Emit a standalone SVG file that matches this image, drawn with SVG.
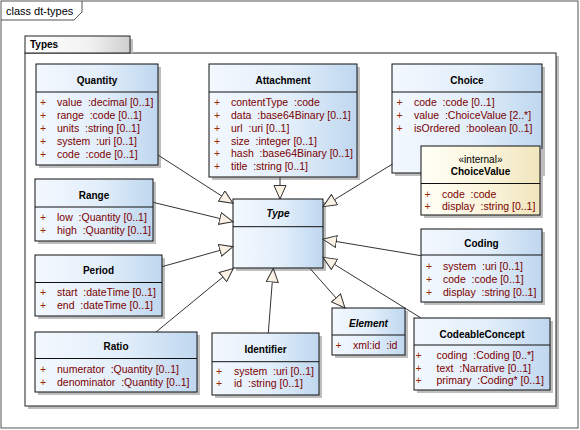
<svg xmlns="http://www.w3.org/2000/svg" width="580" height="430" viewBox="0 0 580 430">
<defs>
<linearGradient id="gb" x1="0" y1="0" x2="1" y2="0">
<stop offset="0" stop-color="#F3F8FE"/>
<stop offset="0.55" stop-color="#E2EEFA"/>
<stop offset="1" stop-color="#BFD7EF"/>
</linearGradient>
<linearGradient id="gy" x1="0" y1="0" x2="1" y2="0">
<stop offset="0" stop-color="#FFFFF6"/>
<stop offset="0.55" stop-color="#FAF4DC"/>
<stop offset="1" stop-color="#F0E5BC"/>
</linearGradient>
<linearGradient id="gt" x1="0" y1="0" x2="1" y2="0">
<stop offset="0" stop-color="#FFFFFF"/>
<stop offset="0.6" stop-color="#F2F2F2"/>
<stop offset="1" stop-color="#CFCFCF"/>
</linearGradient>
<marker id="gen" markerUnits="userSpaceOnUse" viewBox="0 0 16 14" markerWidth="16" markerHeight="14" refX="14" refY="6.5" orient="auto">
<path d="M0.5,0.5 L14,6.5 L0.5,12.5 z" fill="#FBF1E4" stroke="#333" stroke-width="1"/>
</marker>
</defs>
<style>
text{font-family:"Liberation Sans",Arial,sans-serif}
.box{fill:url(#gb);stroke:#111;stroke-width:1}
.yel{fill:url(#gy)}
.sh{fill:#BEBEBE}
.dv{stroke:#111;stroke-width:1}
.t{font-size:10px;font-weight:bold;text-anchor:middle;fill:#000}
.it{font-style:italic}
.st{font-size:10px;text-anchor:middle;fill:#000}
.a{font-size:10.5px;fill:#7A0000}
.p{font-size:10.5px;fill:#9A2A00}
.c{stroke:#333;stroke-width:1;fill:none;marker-end:url(#gen)}
</style>

<g id="frame">
<rect x="1" y="1" width="577" height="427" fill="#FFFFFF" stroke="#555" stroke-width="1"/>
<path d="M1,20 H74 L82,12 V1" fill="none" stroke="#555" stroke-width="1"/>
<text x="6" y="14.5" font-size="11" fill="#000">class dt-types</text>
</g>

<g id="package-Types">
<rect x="28" y="56" width="531" height="353" class="sh"/>
<rect x="25" y="53" width="531" height="353" fill="#FFFFFF" stroke="#222" stroke-width="1"/>
<rect x="130" y="39" width="3" height="14" class="sh"/>
<rect x="25" y="36" width="105" height="17" fill="url(#gt)" stroke="#222" stroke-width="1"/>
<text x="30" y="48" font-size="10" font-weight="bold" fill="#000">Types</text>
</g>

<g id="Quantity">
<rect x="39" y="67" width="122" height="101" class="sh"/>
<rect x="36" y="64" width="122" height="101" class="box"/>
<line x1="36" y1="92" x2="158" y2="92" class="dv"/>
<text x="97" y="83.5" class="t">Quantity</text>
<text x="40" y="106.4" class="p">+</text><text x="57" y="106.4" class="a" xml:space="preserve">value  :decimal [0..1]</text>
<text x="40" y="119.2" class="p">+</text><text x="57" y="119.2" class="a" xml:space="preserve">range  :code [0..1]</text>
<text x="40" y="132" class="p">+</text><text x="57" y="132" class="a" xml:space="preserve">units  :string [0..1]</text>
<text x="40" y="144.8" class="p">+</text><text x="57" y="144.8" class="a" xml:space="preserve">system  :uri [0..1]</text>
<text x="40" y="157.6" class="p">+</text><text x="57" y="157.6" class="a" xml:space="preserve">code  :code [0..1]</text>
</g>

<g id="Attachment">
<rect x="212" y="67" width="148" height="113" class="sh"/>
<rect x="209" y="64" width="148" height="113" class="box"/>
<line x1="209" y1="92" x2="357" y2="92" class="dv"/>
<text x="283" y="83.5" class="t">Attachment</text>
<text x="214" y="106.2" class="p">+</text><text x="231" y="106.2" class="a" xml:space="preserve">contentType  :code</text>
<text x="214" y="119" class="p">+</text><text x="231" y="119" class="a" xml:space="preserve">data  :base64Binary [0..1]</text>
<text x="214" y="131.8" class="p">+</text><text x="231" y="131.8" class="a" xml:space="preserve">url  :uri [0..1]</text>
<text x="214" y="144.6" class="p">+</text><text x="231" y="144.6" class="a" xml:space="preserve">size  :integer [0..1]</text>
<text x="214" y="157.4" class="p">+</text><text x="231" y="157.4" class="a" xml:space="preserve">hash  :base64Binary [0..1]</text>
<text x="214" y="170.2" class="p">+</text><text x="231" y="170.2" class="a" xml:space="preserve">title  :string [0..1]</text>
</g>

<g id="Choice">
<rect x="395" y="67" width="150" height="109" class="sh"/>
<rect x="392" y="64" width="150" height="109" class="box"/>
<line x1="392" y1="92" x2="542" y2="92" class="dv"/>
<text x="467" y="83.5" class="t">Choice</text>
<text x="396.5" y="106" class="p">+</text><text x="414" y="106" class="a" xml:space="preserve">code  :code [0..1]</text>
<text x="396.5" y="118.8" class="p">+</text><text x="414" y="118.8" class="a" xml:space="preserve">value  :ChoiceValue [2..*]</text>
<text x="396.5" y="131.6" class="p">+</text><text x="414" y="131.6" class="a" xml:space="preserve">isOrdered  :boolean [0..1]</text>
</g>

<g id="ChoiceValue">
<rect x="424" y="149" width="119" height="69" class="sh"/>
<rect x="421" y="146" width="119" height="69" class="box yel"/>
<line x1="421" y1="183.5" x2="540" y2="183.5" class="dv"/>
<text x="480.5" y="162.5" class="st">«internal»</text>
<text x="480.5" y="175.3" class="t">ChoiceValue</text>
<text x="424.5" y="197.7" class="p">+</text><text x="442" y="197.7" class="a" xml:space="preserve">code  :code</text>
<text x="424.5" y="210.4" class="p">+</text><text x="442" y="210.4" class="a" xml:space="preserve">display  :string [0..1]</text>
</g>

<g id="Range">
<rect x="38" y="182" width="118" height="62" class="sh"/>
<rect x="35" y="179" width="118" height="62" class="box"/>
<line x1="35" y1="207" x2="153" y2="207" class="dv"/>
<text x="94" y="198.5" class="t">Range</text>
<text x="40" y="221" class="p">+</text><text x="57" y="221" class="a" xml:space="preserve">low  :Quantity [0..1]</text>
<text x="40" y="233.6" class="p">+</text><text x="57" y="233.6" class="a" xml:space="preserve">high  :Quantity [0..1]</text>
</g>

<g id="Period">
<rect x="38" y="258" width="127" height="61" class="sh"/>
<rect x="35" y="255" width="127" height="61" class="box"/>
<line x1="35" y1="282.5" x2="162" y2="282.5" class="dv"/>
<text x="98.5" y="274.2" class="t">Period</text>
<text x="40" y="296.4" class="p">+</text><text x="57" y="296.4" class="a" xml:space="preserve">start  :dateTime [0..1]</text>
<text x="40" y="309" class="p">+</text><text x="57" y="309" class="a" xml:space="preserve">end  :dateTime [0..1]</text>
</g>

<g id="Ratio">
<rect x="38" y="335" width="162" height="60" class="sh"/>
<rect x="35" y="332" width="162" height="60" class="box"/>
<line x1="35" y1="358.5" x2="197" y2="358.5" class="dv"/>
<text x="116" y="349.5" class="t">Ratio</text>
<text x="40" y="373" class="p">+</text><text x="57" y="373" class="a" xml:space="preserve">numerator  :Quantity [0..1]</text>
<text x="40" y="385.5" class="p">+</text><text x="57" y="385.5" class="a" xml:space="preserve">denominator  :Quantity [0..1]</text>
</g>

<g id="Identifier">
<rect x="215" y="336" width="107" height="62" class="sh"/>
<rect x="212" y="333" width="107" height="62" class="box"/>
<line x1="212" y1="361.7" x2="319" y2="361.7" class="dv"/>
<text x="265.5" y="352.5" class="t">Identifier</text>
<text x="216" y="374.7" class="p">+</text><text x="234" y="374.7" class="a" xml:space="preserve">system  :uri [0..1]</text>
<text x="216" y="387.2" class="p">+</text><text x="234" y="387.2" class="a" xml:space="preserve">id  :string [0..1]</text>
</g>

<g id="Element">
<rect x="335" y="311" width="73" height="47" class="sh"/>
<rect x="332" y="308" width="73" height="47" class="box"/>
<line x1="332" y1="335" x2="405" y2="335" class="dv"/>
<text x="368.5" y="326.8" class="t it">Element</text>
<text x="335.5" y="349.4" class="p">+</text><text x="353" y="349.4" class="a" xml:space="preserve">xml:id  :id</text>
</g>

<g id="CodeableConcept">
<rect x="417" y="321" width="136" height="72" class="sh"/>
<rect x="414" y="318" width="136" height="72" class="box"/>
<line x1="414" y1="345" x2="550" y2="345" class="dv"/>
<text x="482" y="337.5" class="t">CodeableConcept</text>
<text x="415.5" y="359" class="p">+</text><text x="436.5" y="359" class="a" xml:space="preserve">coding  :Coding [0..*]</text>
<text x="415.5" y="371.5" class="p">+</text><text x="436.5" y="371.5" class="a" xml:space="preserve">text  :Narrative [0..1]</text>
<text x="415.5" y="384" class="p">+</text><text x="436.5" y="384" class="a" xml:space="preserve">primary  :Coding* [0..1]</text>
</g>

<g id="Coding">
<rect x="424" y="232" width="121" height="73" class="sh"/>
<rect x="421" y="229" width="121" height="73" class="box"/>
<line x1="421" y1="255" x2="542" y2="255" class="dv"/>
<text x="481.5" y="246.8" class="t">Coding</text>
<text x="426" y="270.4" class="p">+</text><text x="443" y="270.4" class="a" xml:space="preserve">system  :uri [0..1]</text>
<text x="426" y="283" class="p">+</text><text x="443" y="283" class="a" xml:space="preserve">code  :code [0..1]</text>
<text x="426" y="295.6" class="p">+</text><text x="443" y="295.6" class="a" xml:space="preserve">display  :string [0..1]</text>
</g>

<g id="Type">
<rect x="236" y="202" width="90" height="69" class="sh"/>
<rect x="233" y="199" width="90" height="69" class="box"/>
<line x1="233" y1="226.7" x2="323" y2="226.7" class="dv"/>
<text x="278" y="216.8" class="t it">Type</text>
</g>

<g id="connectors">
<line x1="158" y1="155" x2="233" y2="203.3" class="c"/>
<line x1="153" y1="202.3" x2="233" y2="221.7" class="c"/>
<line x1="162" y1="266.7" x2="233" y2="246.7" class="c"/>
<line x1="156" y1="332" x2="233.3" y2="268.5" class="c"/>
<line x1="268.3" y1="333" x2="273.3" y2="268.5" class="c"/>
<line x1="280" y1="177" x2="280" y2="199" class="c"/>
<line x1="392.5" y1="164" x2="323" y2="206.7" class="c"/>
<line x1="421" y1="255.7" x2="323" y2="239.3" class="c"/>
<line x1="421" y1="318" x2="323" y2="257.3" class="c"/>
<line x1="310" y1="268.5" x2="345" y2="308" class="c"/>
</g>
</svg>
